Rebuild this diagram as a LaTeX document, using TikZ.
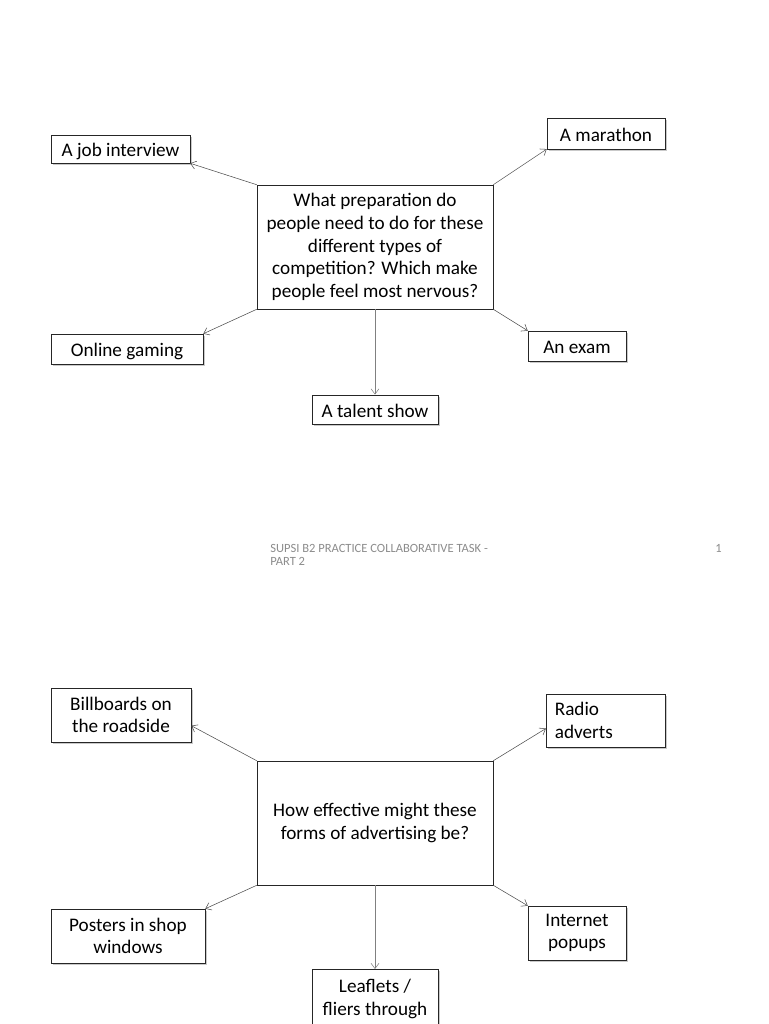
\documentclass[tikz,border=0pt]{standalone}
\usepackage{fontspec}
\setmainfont{Carlito}
\usetikzlibrary{arrows.meta,shadows}

\begin{document}
\begin{tikzpicture}[x=0.75pt, y=-0.75pt,
    box/.style={draw=black!85, fill=white, inner sep=0pt, align=center,
        font=\fontsize{14.4}{17}\selectfont,
        drop shadow={shadow xshift=1.5pt, shadow yshift=-1.5pt, opacity=0.35, fill=black!60}},
    oneline/.style={text height=15pt, text depth=3.5pt},
    question/.style={draw=black!85, fill=white, inner sep=0pt, align=center,
        font=\fontsize{14.4}{17}\selectfont, minimum width=177pt, minimum height=93pt},
    edge/.style={draw=black!70, thin, -{Straight Barb[length=4pt,width=6pt]}},
    footer/.style={text=black!45, font=\fontsize{9.4}{9.6}\selectfont, inner sep=0pt, align=left}
]
    \fill[white] (0,0) rectangle (768,1024);
    \useasboundingbox (0,0) rectangle (768,1024);

    % first slide
    \node[question] (q1) at (375,247) {What preparation do\\people need to do for these\\different types of\\competition? Which make\\people feel most nervous?};
    \node[box, oneline, minimum width=104pt, minimum height=21pt] (job) at (120.5,149) {A job interview};
    \node[box, oneline, minimum width=88.5pt, minimum height=23pt] (mar) at (606,133.5) {A marathon};
    \node[box, oneline, minimum width=114pt, minimum height=22.5pt] (game) at (127,349) {Online gaming};
    \node[box, oneline, minimum width=73.5pt, minimum height=22.5pt] (exam) at (577,346) {An exam};
    \node[box, oneline, minimum width=94.5pt, minimum height=22pt] (tal) at (375,409.5) {A talent show};
    \draw[edge] (q1.north west) -- (job.south east);
    \draw[edge] (q1.north east) -- (mar.south west);
    \draw[edge] (q1.south west) -- (game.north east);
    \draw[edge] (q1.south east) -- (exam.north west);
    \draw[edge, draw=black!50] (q1.south) -- (tal.north);

    % footer
    \node[footer, anchor=north west] (foot) at (270,544) {SUPSI B2 PRACTICE COLLABORATIVE TASK -\\PART 2};
    \node[footer, anchor=north east] (page) at (722,544) {1};

    % second slide
    \node[question] (q2) at (375,823) {How effective might these\\forms of advertising be?};
    \node[box, minimum width=105pt, minimum height=40.5pt] (bill) at (121,715) {Billboards on\\the roadside};
    \node[box, minimum width=89pt, minimum height=40pt, text width=76pt, inner xsep=6.5pt, align=left] (rad) at (605.5,720.5) {Radio\\adverts};
    \node[box, minimum width=115.5pt, minimum height=40.5pt] (post) at (128,936) {Posters in shop\\windows};
    \node[box, minimum width=73.5pt, minimum height=40.5pt] (net) at (577,933) {Internet\\popups};
    \node[box, anchor=north, minimum width=94.5pt, inner ysep=7.5pt] (leaf) at (375,969) {Leaflets /\\fliers through\\~\\~};
    \draw[edge] (q2.north west) -- ([yshift=-8pt]bill.east);
    \draw[edge] (q2.north east) -- ([yshift=-6pt]rad.west);
    \draw[edge] (q2.south west) -- (post.north east);
    \draw[edge] (q2.south east) -- (net.north west);
    \draw[edge, draw=black!50] (q2.south) -- (leaf.north);
\end{tikzpicture}
\end{document}
